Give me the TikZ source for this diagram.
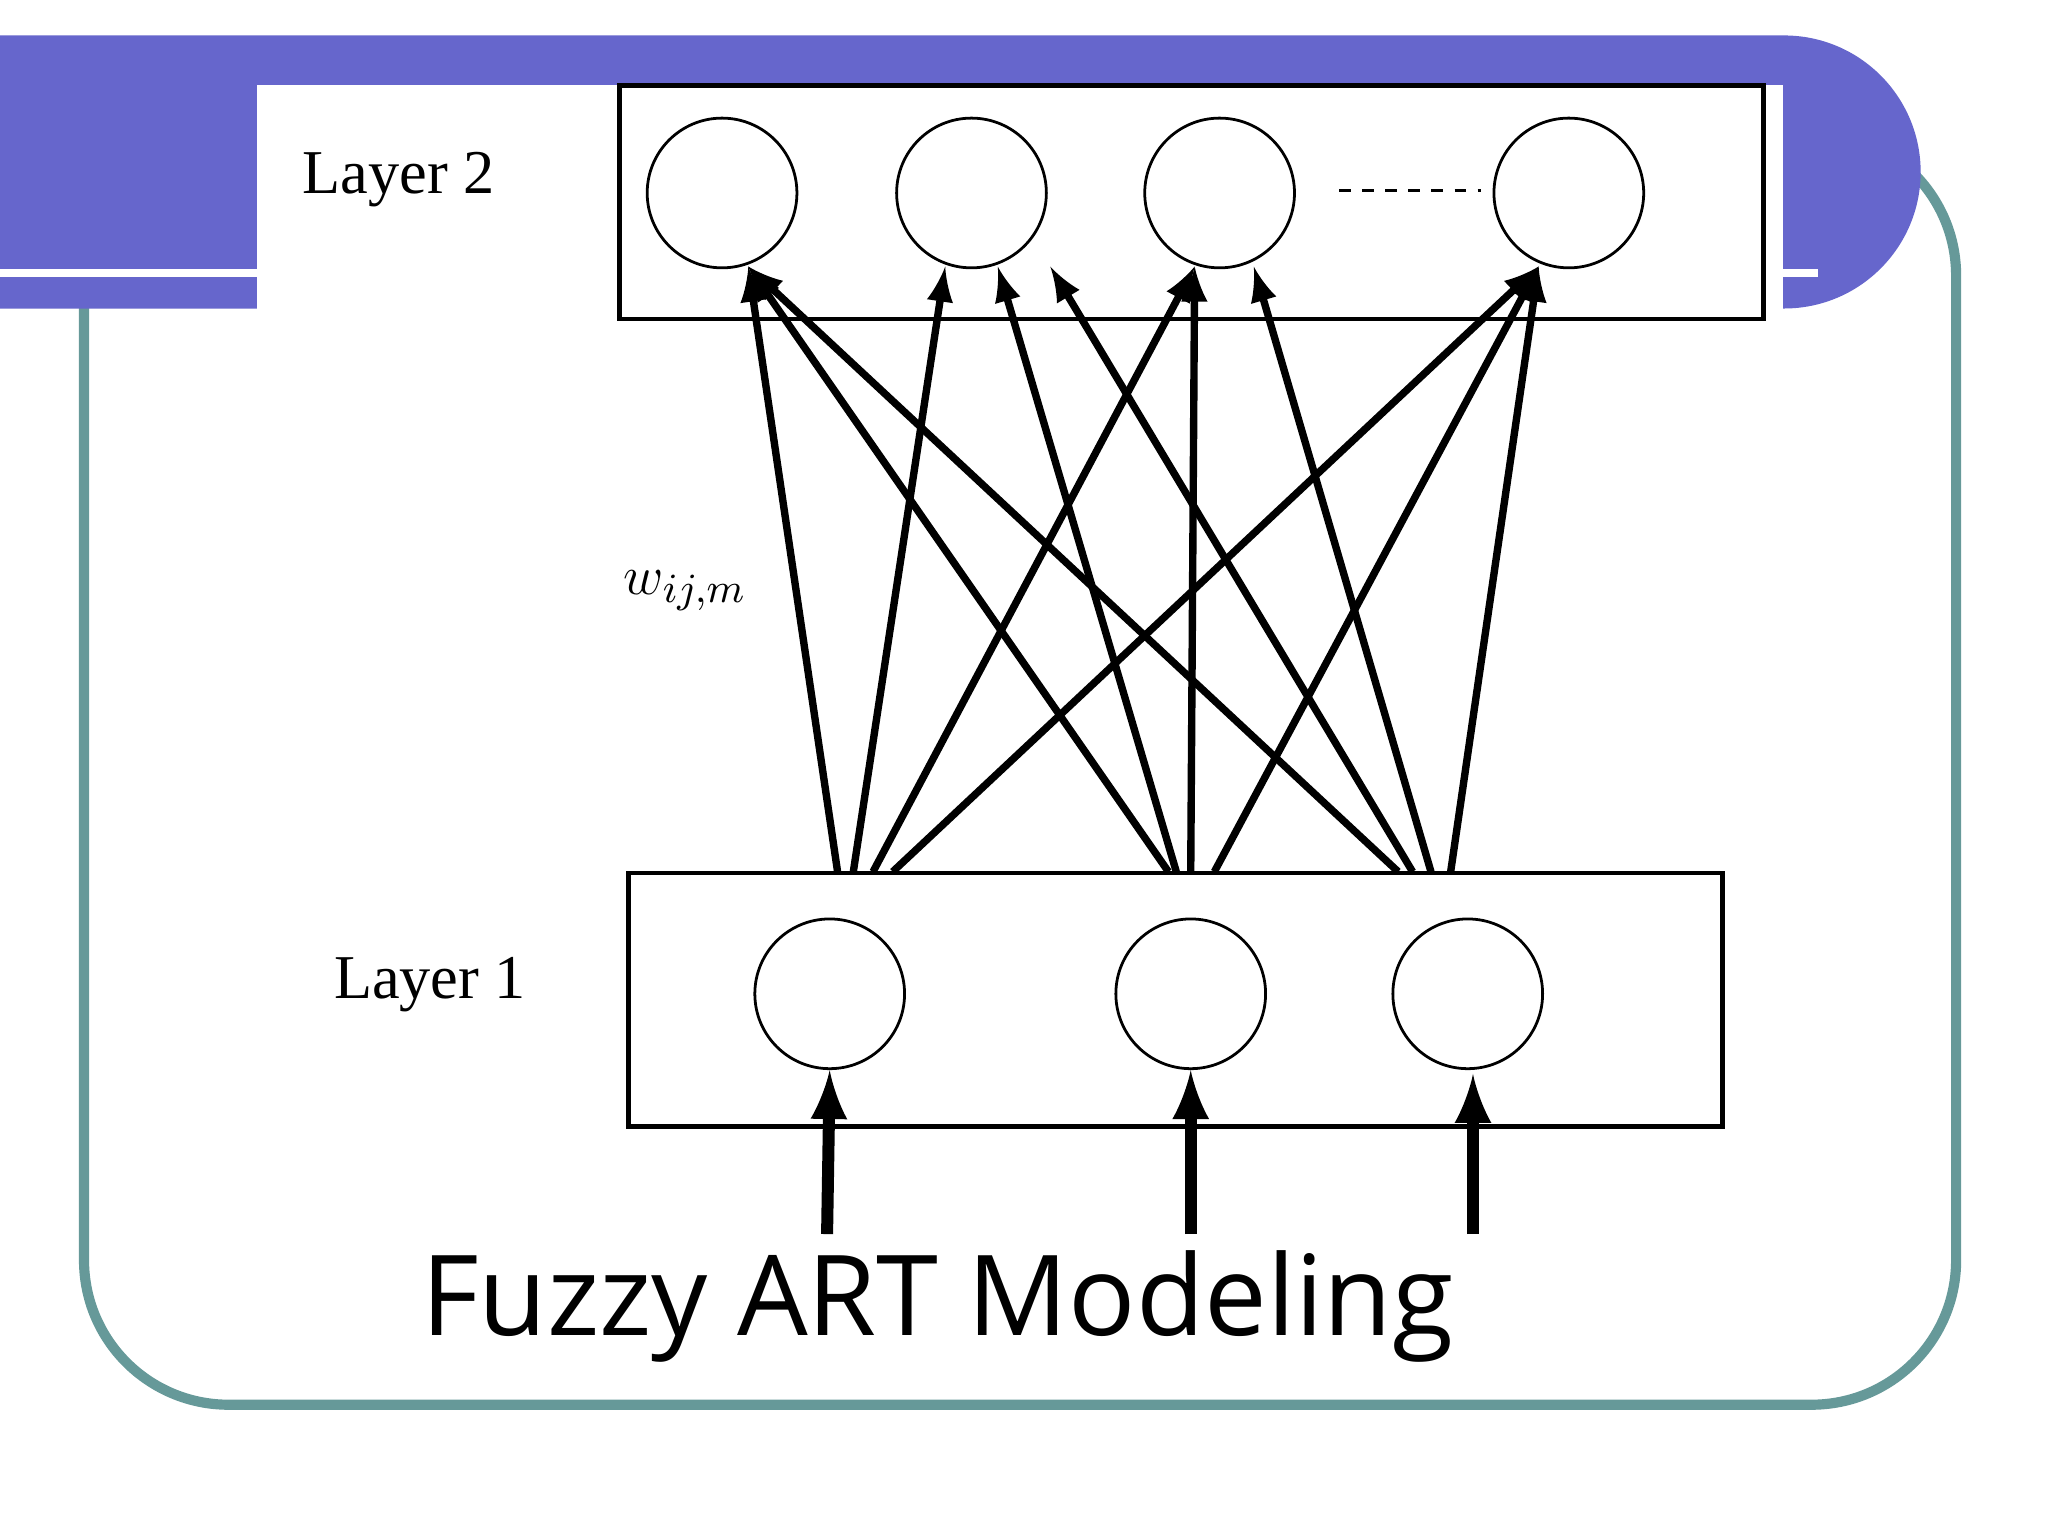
\documentclass[tikz,border=0pt]{standalone}
\usepackage{fontspec}
\setmainfont{Liberation Serif}
\newfontfamily\titlefont{Open Sans}
\begin{document}
\begin{tikzpicture}[x=0.01cm,y=-0.01cm,
  neuron/.style={draw,circle,minimum size=1.14cm,inner sep=0pt,line width=0.6pt},
  layerbox/.style={draw,line width=1pt},
  conn/.style={-latex,line width=1.6pt},
  inarrow/.style={-latex,line width=2.6pt},
  lbl/.style={font=\fontsize{13.5}{13.5}\selectfont}]
\definecolor{band}{HTML}{6666CC}
\definecolor{frame}{HTML}{669999}
\useasboundingbox (0,0) rectangle (1560,1170);
\fill[white] (0,0) rectangle (1560,1170);
% teal frame
\draw[frame,line width=2.2pt,rounded corners=1.1cm] (64,100) rectangle (1490,1070);
% purple band
\fill[band,rounded corners=1.04cm] (-300,27) rectangle (1463,235);
\fill[white] (196,65) rectangle (1358,236);
\fill[white] (-10,205) rectangle (196,211);
\fill[white] (1358,205) rectangle (1385,211);
% layer 2
\node[layerbox,minimum width=8.71cm,minimum height=1.78cm,inner sep=0pt] (box2) at (907.5,154) {};
\node[neuron] (a1) at (550,147) {};
\node[neuron] (a2) at (740,147) {};
\node[neuron] (a3) at (929,147) {};
\node[neuron] (a4) at (1195,147) {};
\coordinate (d1) at (1020,145); \coordinate (d2) at (1128,145);
\draw[line width=0.6pt,dash pattern=on 2.5pt off 2.5pt] (d1) -- (d2);
\node[lbl,anchor=west] (l2) at (218,137) {Layer 2};
% layer 1
\node[layerbox,minimum width=8.33cm,minimum height=1.93cm,inner sep=0pt] (box1) at (895.5,761.5) {};
\node[neuron] (b1) at (632,757) {};
\node[neuron] (b2) at (907,757) {};
\node[neuron] (b3) at (1118,757) {};
\node[lbl,anchor=west] (l1) at (242,750) {Layer 1};
\node[font=\itshape\fontsize{13}{13}\selectfont] (w) at (522,450) {$w_{ij,m}$};
% targets
\foreach \n/\x in {t1/570,t2/720,t3/760,t4/800,t5/910,t6/955,t7/1172}
  \coordinate (\n) at (\x,203);
\foreach \n/\x in {s1/638,s2/650,s3/665,s4/680,m1/890,m2/896,m3/907,m4/925,r1/1065,r2/1076,r3/1090,r4/1105}
  \coordinate (\n) at (\x,664);
\foreach \s/\t in {s1/t1,s2/t2,s3/t5,s4/t7,m1/t1,m2/t3,m3/t5,m4/t7,r1/t1,r2/t4,r3/t6,r4/t7}
  \draw[conn] (\s) -- (\t);
% inputs
\coordinate (i1) at (630,940); \coordinate (i2) at (907,940); \coordinate (i3) at (1122,940);
\draw[inarrow] (i1) -- (b1.south);
\draw[inarrow] (i2) -- (b2.south);
\draw[inarrow] (i3) -- (1122,818);
\node[font=\titlefont\fontsize{24.2}{24.2}\selectfont] (title) at (714,995) {Fuzzy ART Modeling};
\end{tikzpicture}
\end{document}
